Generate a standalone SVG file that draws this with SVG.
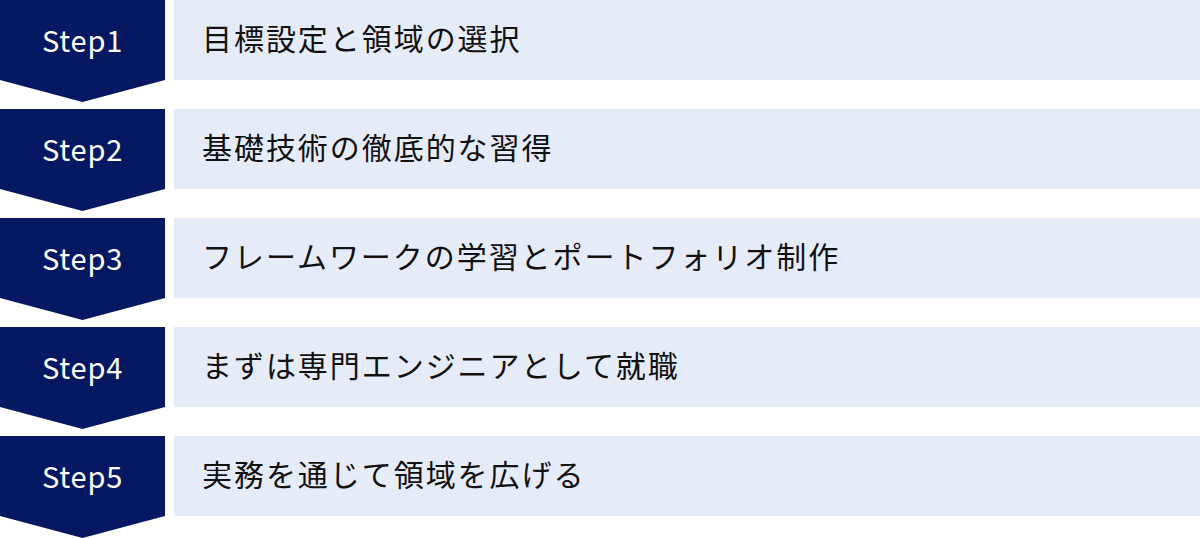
<svg xmlns="http://www.w3.org/2000/svg" width="1200" height="538" viewBox="0 0 1200 538">
<style>
.chev{fill:#061862}
.bar{fill:#E6EBF8}
.step{font-family:"Noto Sans CJK JP","Noto Sans",sans-serif;font-size:29px;fill:#ffffff;text-anchor:middle;letter-spacing:0.8px}
.lbl{font-family:"Noto Sans CJK JP","Noto Sans",sans-serif;font-size:30px;fill:#111111;letter-spacing:1.95px}
</style>
<defs>
<polygon id="chevShape" points="0,0 165,0 165,80 82.5,102 0,80"/>
</defs>
<rect width="1200" height="538" fill="#ffffff"/>
<g id="connectors"></g>
<g id="step1" transform="translate(0,0)">
<use href="#chevShape" class="chev"/>
<rect class="bar" x="174" y="0" width="1026" height="80"/>
<text class="step" x="82.5" y="52">Step1</text>
<text class="lbl" x="202" y="50">目標設定と領域の選択</text>
</g>
<g id="step2" transform="translate(0,109)">
<use href="#chevShape" class="chev"/>
<rect class="bar" x="174" y="0" width="1026" height="80"/>
<text class="step" x="82.5" y="52">Step2</text>
<text class="lbl" x="202" y="50">基礎技術の徹底的な習得</text>
</g>
<g id="step3" transform="translate(0,218)">
<use href="#chevShape" class="chev"/>
<rect class="bar" x="174" y="0" width="1026" height="80"/>
<text class="step" x="82.5" y="52">Step3</text>
<text class="lbl" x="202" y="50">フレームワークの学習とポートフォリオ制作</text>
</g>
<g id="step4" transform="translate(0,327)">
<use href="#chevShape" class="chev"/>
<rect class="bar" x="174" y="0" width="1026" height="80"/>
<text class="step" x="82.5" y="52">Step4</text>
<text class="lbl" x="202" y="50">まずは専門エンジニアとして就職</text>
</g>
<g id="step5" transform="translate(0,436)">
<use href="#chevShape" class="chev"/>
<rect class="bar" x="174" y="0" width="1026" height="80"/>
<text class="step" x="82.5" y="52">Step5</text>
<text class="lbl" x="202" y="50">実務を通じて領域を広げる</text>
</g>
</svg>
